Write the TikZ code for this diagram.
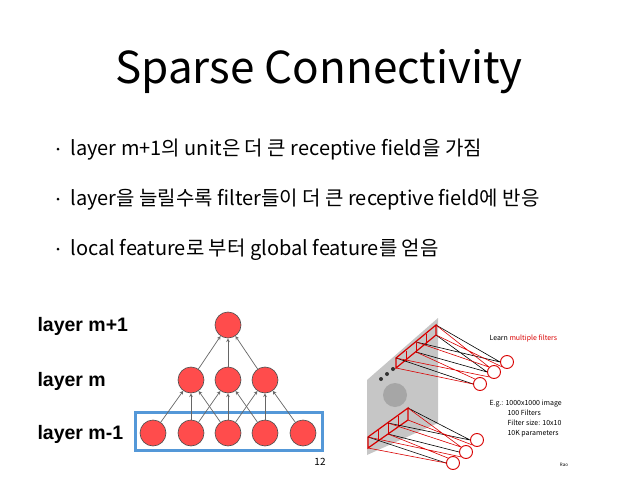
\documentclass[tikz,border=0pt]{standalone}
\usepackage{fontspec}
\setmainfont{Noto Sans CJK KR}
\newfontfamily\lab{Liberation Sans}
\begin{document}
\begin{tikzpicture}[x=1pt,y=-1pt,
  nd/.style={circle,draw=black!70,fill=red!70!white,minimum size=26pt,inner sep=0pt,line width=0.6pt},
  ar/.style={->,>=stealth,gray!80!black,line width=0.7pt},
  fc/.style={circle,draw=red!85!black,fill=white,minimum size=13pt,inner sep=0pt,line width=0.9pt},
  lay/.style={anchor=west,font=\lab\bfseries\fontsize{19.5}{22}\selectfont},
  bul/.style={anchor=west,font=\fontsize{20}{24}\selectfont}]
\useasboundingbox (0,0) rectangle (638,479);
\node (title) at (319,72) {\fontsize{44}{50}\selectfont Sparse Connectivity};
\foreach \y/\t [count=\i] in {150/{layer m+1의 unit은 더 큰 receptive field을 가짐},200/{layer을 늘릴수록 filter들이 더 큰 receptive field에 반응},250/{local feature로 부터 global feature를 얻음}}{
  \node[bul] (b\i) at (67,\y) {\t};
  \fill (58,\y-1) circle (1.5);
}
% left diagram
\node[lay] (l1) at (34,326) {layer m+1};
\node[lay] (l2) at (34,381) {layer m};
\node[lay] (l3) at (34,434) {layer m-1};
\node[nd] (t) at (228,325) {};
\foreach \x [count=\i] in {191,228,265} \node[nd] (m\i) at (\x,380) {};
\foreach \x [count=\i] in {153,191,228,265,303} \node[nd] (n\i) at (\x,433) {};
\draw[draw=cyan!60!blue!70,line width=3pt] (135,412) rectangle (322,450);
\foreach \i in {1,2,3} \draw[ar] (m\i) -- (t);
\draw[ar] (n1) -- (m1); \draw[ar] (n2) -- (m1); \draw[ar] (n3) -- (m1);
\draw[ar] (n2) -- (m2); \draw[ar] (n3) -- (m2); \draw[ar] (n4) -- (m2);
\draw[ar] (n3) -- (m3); \draw[ar] (n4) -- (m3); \draw[ar] (n5) -- (m3);
\node (pg) at (320,462) {\fontsize{10}{10}\selectfont 12};
% right picture
\fill[gray!45] (367,380) -- (438,318) -- (438,423) -- (367,455) -- cycle;
\fill[gray!70] (395,395) circle (12);
\foreach \p in {(381,379),(387,374),(393,369)} \fill[black!80] \p circle (2);
\draw[red!85!black,line width=1.2pt] (396,368) -- (436,335) -- (436,325) -- (396,358) -- cycle;
\draw[red!85!black,line width=1.2pt] (368,448) -- (408,420) -- (408,408) -- (368,437) -- cycle;
\foreach \x in {406,416,426} {\draw[red!85!black,line width=0.8pt] (\x,{351-0.85*(\x-406)}) -- ++(0,10);}
\foreach \x in {378,388,398} {\draw[red!85!black,line width=0.8pt] (\x,{430-0.7*(\x-378)}) -- ++(0,11);}
\node[fc] (f1) at (507,362) {};
\node[fc] (f2) at (494,372) {};
\node[fc] (f3) at (480,384) {};
\node[fc] (g1) at (477,440) {};
\node[fc] (g2) at (466,452) {};
\node[fc] (g3) at (453,463) {};
\coordinate (a1) at (436,325); \coordinate (a2) at (436,335);
\coordinate (a3) at (416,342); \coordinate (a4) at (416,352);
\coordinate (a5) at (396,358); \coordinate (a6) at (396,368);
\coordinate (c1) at (408,408); \coordinate (c2) at (408,420);
\coordinate (c3) at (388,423); \coordinate (c4) at (388,434);
\coordinate (c5) at (368,437); \coordinate (c6) at (368,448);
\draw[black,line width=0.6pt] (a1)--(f1.west) (a4)--(f2.west) (a5)--(f3.west) (a3)--(f1.west) (a2)--(f2.west);
\draw[red!85!black,line width=0.6pt] (a2)--(f1.south west) (a3)--(f2.north west) (a6)--(f3.west) (a4)--(f3.north west) (a5)--(f2.south west) (a1)--(f2.north west);
\draw[black,line width=0.6pt] (c1)--(g1.west) (c4)--(g2.west) (c5)--(g3.west) (c3)--(g1.west);
\draw[red!85!black,line width=0.6pt] (c2)--(g1.south west) (c3)--(g2.north west) (c6)--(g3.west) (c4)--(g3.north west) (c5)--(g2.south west) (c1)--(g2.north west);
\node[anchor=west,font=\fontsize{7}{8}\selectfont] (lm) at (486,338) {Learn \textcolor{red!85!black}{multiple filters}};
\node[anchor=north west,align=left,font=\fontsize{7}{10}\selectfont] (eg) at (486,397) {E.g.: 1000x1000 image\\\hspace*{18pt}100 Filters\\\hspace*{18pt}Filter size: 10x10\\\hspace*{18pt}10K parameters};
\node[font=\fontsize{4.5}{5}\selectfont] (rao) at (564,465) {Rao};
\end{tikzpicture}
\end{document}
